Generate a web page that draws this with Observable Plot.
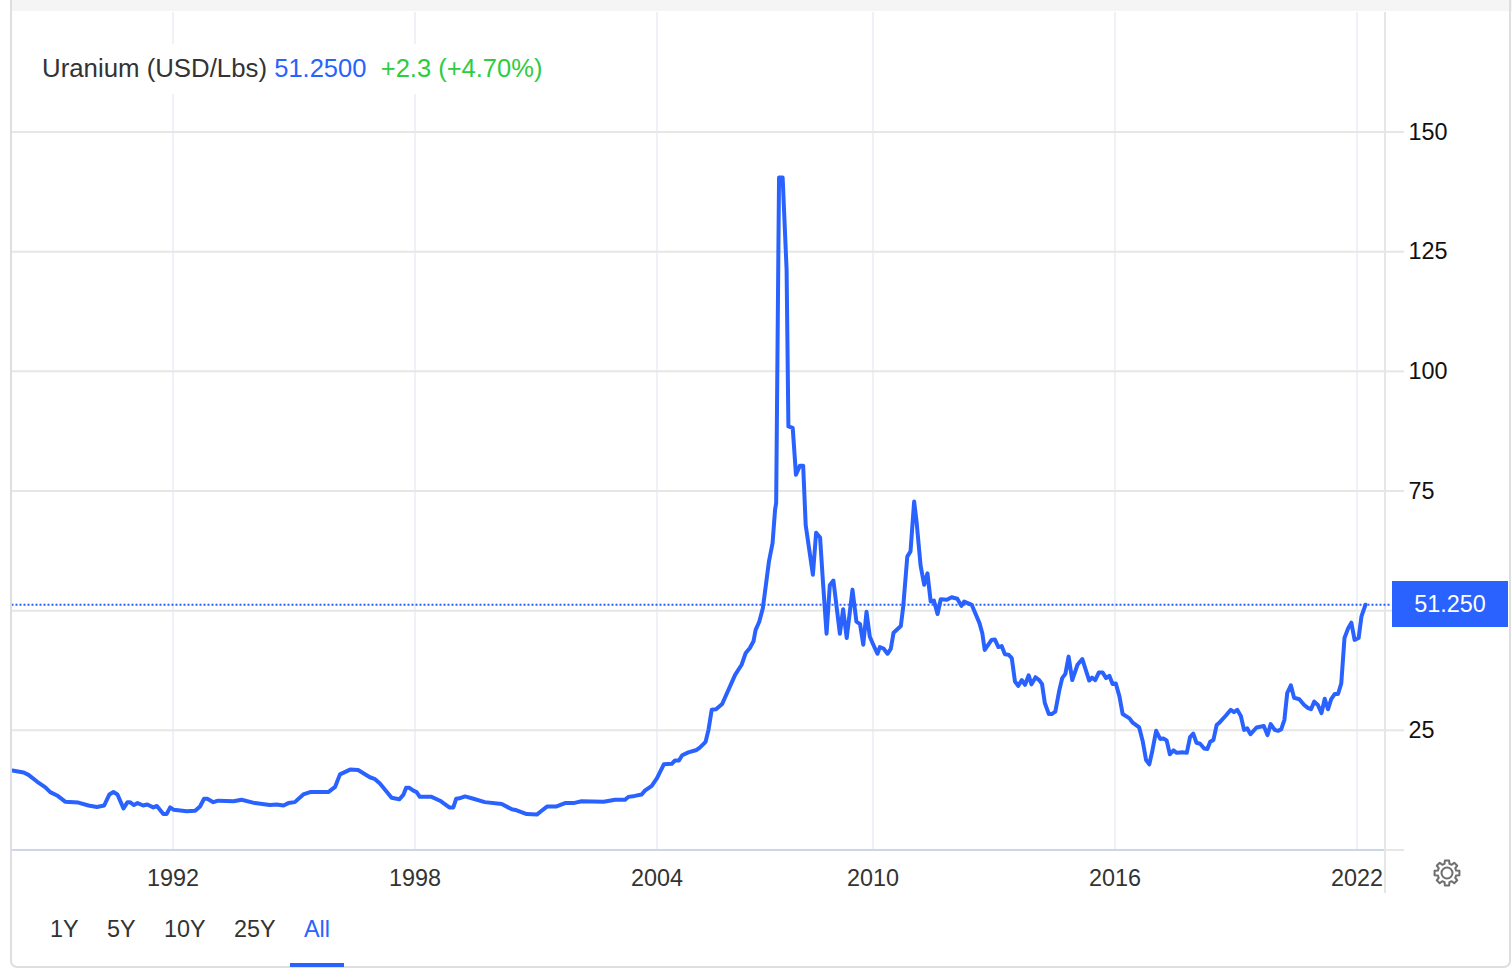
<!DOCTYPE html>
<html lang="en">
<head>
<meta charset="utf-8">
<title>Uranium</title>
<script src="https://cdn.jsdelivr.net/npm/d3@7"></script>
<script src="https://cdn.jsdelivr.net/npm/@observablehq/plot@0.6"></script>
<style>
  html, body { margin: 0; padding: 0; background: #fff; width: 1512px; height: 976px; overflow: hidden; font-family: "Liberation Sans", Arial, sans-serif; }
  #chart { position: absolute; left: 0; top: 0; }
  #chart svg { display: block; background: #fff; }
  .frame { position: absolute; left: 10px; top: -4px; width: 1497px; height: 968px; border: 2px solid #dedede; border-radius: 0 0 7px 7px; pointer-events: none; }
  .strip { position: absolute; left: 12px; top: 0; width: 1500px; height: 11px; background: #f5f5f5; }
  .title { position: absolute; left: 30px; top: 44px; height: 50px; line-height: 48px; padding: 0 12px; background: #fff; font-size: 25.8px; color: #333; white-space: pre; }
  .title span { font-size: 25.5px; }
  .btn { position: absolute; top: 913px; font-size: 23.4px; line-height: 32px; color: #333; }
  .under { position: absolute; left: 290px; top: 963px; width: 54px; height: 4px; background: #2962ff; }
  .price { position: absolute; left: 1392px; width: 116px; height: 46px; line-height: 46px; text-align: center; background: #2962ff; color: #fff; font-size: 23.4px; }
  .gear { position: absolute; left: 1432px; top: 858px; }
</style>
</head>
<body>
<div id="chart"></div>
<script>
const years = [
  1988.01,1988.29,1988.41,1988.62,1988.83,1988.95,1989.12,1989.32,1989.65,1989.90,
  1990.11,1990.29,1990.42,1990.52,1990.62,1990.77,1990.87,1990.93,1991.03,1991.12,
  1991.26,1991.36,1991.51,1991.60,1991.76,1991.84,1991.93,1992.02,1992.34,1992.55,
  1992.67,1992.77,1992.85,1993.00,1993.12,1993.50,1993.70,1994.03,1994.40,1994.57,
  1994.74,1994.86,1995.02,1995.23,1995.40,1995.85,1996.02,1996.14,1996.39,1996.59,
  1996.88,1997.01,1997.13,1997.42,1997.61,1997.71,1997.78,1997.86,1997.96,1998.04,
  1998.12,1998.41,1998.62,1998.85,1998.95,1999.02,1999.10,1999.24,1999.45,1999.73,
  2000.15,2000.40,2000.52,2000.77,2001.02,2001.14,2001.28,2001.51,2001.72,2001.93,
  2002.13,2002.67,2002.75,2002.96,2003.21,2003.29,2003.45,2003.62,2003.70,2003.87,
  2004.00,2004.19,2004.41,2004.50,2004.61,2004.70,2004.87,2005.10,2005.19,2005.35,
  2005.43,2005.52,2005.64,2005.81,2006.17,2006.35,2006.46,2006.58,2006.68,2006.74,
  2006.84,2006.94,2007.03,2007.11,2007.21,2007.28,2007.31,2007.39,2007.49,2007.60,
  2007.65,2007.77,2007.86,2007.97,2008.06,2008.13,2008.33,2008.42,2008.53,2008.60,
  2008.71,2008.80,2008.90,2009.08,2009.17,2009.27,2009.43,2009.54,2009.64,2009.73,
  2009.82,2009.91,2009.99,2010.11,2010.17,2010.26,2010.36,2010.44,2010.51,2010.69,
  2010.75,2010.85,2010.93,2011.02,2011.08,2011.18,2011.27,2011.35,2011.43,2011.51,
  2011.60,2011.68,2011.83,2011.95,2012.09,2012.19,2012.26,2012.45,2012.64,2012.71,
  2012.77,2012.94,2013.02,2013.11,2013.19,2013.27,2013.36,2013.44,2013.52,2013.60,
  2013.69,2013.77,2013.86,2013.93,2014.03,2014.12,2014.19,2014.26,2014.36,2014.43,
  2014.52,2014.62,2014.69,2014.77,2014.85,2014.94,2015.07,2015.19,2015.36,2015.43,
  2015.51,2015.60,2015.69,2015.78,2015.86,2015.94,2016.02,2016.11,2016.19,2016.36,
  2016.44,2016.60,2016.69,2016.77,2016.85,2016.93,2017.02,2017.12,2017.20,2017.28,
  2017.36,2017.45,2017.53,2017.69,2017.78,2017.86,2017.94,2018.02,2018.11,2018.21,
  2018.29,2018.36,2018.44,2018.52,2018.60,2018.75,2018.87,2018.95,2019.03,2019.12,
  2019.20,2019.28,2019.36,2019.51,2019.69,2019.78,2019.86,2019.96,2020.04,2020.12,
  2020.20,2020.27,2020.36,2020.44,2020.57,2020.69,2020.78,2020.86,2020.94,2021.03,
  2021.12,2021.20,2021.28,2021.36,2021.45,2021.53,2021.61,2021.69,2021.78,2021.86,
  2021.94,2022.04,2022.11,2022.21
];
const prices = [
  16.6,16.2,15.7,14.3,13.1,12.1,11.4,10.1,9.9,9.3,
  9.0,9.3,11.6,12.1,11.6,8.7,10.0,10.0,9.4,9.8,
  9.3,9.5,8.9,9.2,7.5,7.5,8.9,8.4,8.1,8.2,
  9.1,10.7,10.7,10.0,10.3,10.2,10.5,9.8,9.4,9.5,
  9.3,9.8,10.0,11.6,12.1,12.1,13.2,15.8,16.8,16.7,
  15.2,14.8,13.9,10.9,10.6,11.5,13.0,13.0,12.4,12.1,
  11.1,11.1,10.3,8.9,8.9,10.7,10.8,11.2,10.7,10.0,
  9.6,8.5,8.3,7.5,7.4,8.2,9.1,9.1,9.8,9.8,
  10.2,10.1,10.2,10.5,10.5,11.1,11.3,11.6,12.4,13.4,
  15.0,17.9,18.0,18.7,18.7,19.8,20.4,20.9,21.4,22.6,
  25.1,29.3,29.4,30.5,36.6,38.7,41.1,42.2,43.6,46.0,
  47.7,50.5,55.7,60.3,64.1,71.1,72.5,140.5,140.5,121.2,
  88.5,88.2,78.4,80.3,80.3,67.9,57.5,66.3,65.3,57.1,
  45.2,55.3,56.3,45.2,50.3,44.3,54.4,47.7,47.2,42.9,
  49.8,44.6,43.2,41.0,42.4,42.1,41.0,42.0,45.4,46.8,
  50.9,61.3,62.4,72.8,68.6,59.4,55.4,57.8,51.9,52.1,
  49.3,52.4,52.3,52.8,52.5,51.0,51.9,51.2,47.4,45.3,
  41.8,43.9,44.0,42.4,42.6,40.9,40.8,40.1,35.2,34.3,
  35.5,34.5,36.5,34.6,36.1,35.5,34.7,30.7,28.4,28.4,
  28.9,33.4,35.9,36.8,40.4,35.5,38.7,39.9,35.4,36.0,
  35.5,37.1,37.1,35.9,36.4,34.7,34.8,32.1,28.4,27.5,
  26.6,25.6,22.6,18.8,17.9,20.9,24.9,23.2,23.3,22.9,
  20.0,20.8,20.3,20.4,20.3,23.6,24.3,22.4,22.2,21.2,
  21.1,22.6,23.0,26.1,26.7,28.1,29.3,28.8,29.3,28.0,
  25.1,25.4,24.2,25.6,25.9,24.0,26.3,25.1,24.9,25.2,
  27.2,32.8,34.4,31.8,31.5,30.3,29.7,29.4,31.0,30.3,
  28.6,31.6,29.4,31.5,32.6,32.6,34.8,44.3,46.3,47.5,
  43.9,44.3,48.8,51.25
];
const xTicks = [1992, 1998, 2004, 2010, 2016, 2022];
const yTicks = [0, 25, 50, 75, 100, 125, 150];
const hiddenYLabels = [0, 50];
const lastPrice = 51.25;
const rangeButtons = ["1Y", "5Y", "10Y", "25Y", "All"];
const buttonLefts = [50, 107, 164, 234, 304];

const BLUE = "#2962ff";
const table = years.map((year, i) => ({year, price: prices[i]}));
const xEnd = 2022.69;

const plot = Plot.plot({
  width: 1512,
  height: 976,
  marginLeft: 12,
  marginRight: 127,
  marginTop: 12,
  marginBottom: 126,
  style: {fontFamily: '"Liberation Sans", Arial, sans-serif', background: "#fff", overflow: "visible"},
  x: {type: "linear", domain: [1988, ...xTicks, xEnd], range: [11.5, 172.5, 414.5, 656.5, 872.5, 1114.5, 1356.5, 1384.5]},
  y: {type: "linear", domain: [0, 175.08], range: [849.5, 11.5]},
  marks: [
    Plot.ruleX(xTicks, {stroke: "#eef2f6", strokeWidth: 2}),
    Plot.ruleY(yTicks.filter(d => d > 0), {stroke: "#e6e6e6", strokeWidth: 2}),
    Plot.ruleY([0], {stroke: "#ccd6eb", strokeWidth: 2}),
    Plot.ruleX([xEnd], {stroke: "#e6e6e6", strokeWidth: 2, insetBottom: -43}),
    Plot.axisY({
      anchor: "right", ticks: yTicks, tickSize: 18, tickPadding: 5,
      stroke: "#e6e6e6", strokeWidth: 2, fill: "#111", fontSize: 23.4, label: null,
      tickFormat: d => hiddenYLabels.includes(d) ? "" : String(d)
    }),
    Plot.axisX({
      anchor: "bottom", ticks: xTicks, tickSize: 0, tickPadding: 19,
      fill: "#333", fontSize: 23.4, label: null, tickFormat: d => String(d)
    }),
    Plot.ruleY([lastPrice], {x1: 1988, x2: xEnd, stroke: BLUE, strokeWidth: 2, strokeDasharray: "2 2", insetRight: -7}),
    Plot.line(table, {x: "year", y: "price", stroke: BLUE, strokeWidth: 4, curve: "linear", strokeLinejoin: "round", strokeLinecap: "round"})
  ]
});
document.getElementById("chart").appendChild(plot);

function addDiv(cls, text, css) {
  const el = document.createElement("div");
  el.className = cls;
  if (text) el.textContent = text;
  Object.assign(el.style, css || {});
  document.body.appendChild(el);
  return el;
}

addDiv("strip");
addDiv("frame");

const title = addDiv("title");
title.innerHTML = 'Uranium (USD/Lbs) <span style="color:' + BLUE + '">51.2500</span>  <span style="color:#2ecc40">+2.3 (+4.70%)</span>';

rangeButtons.forEach((label, i) => {
  addDiv("btn", label, {left: buttonLefts[i] + "px", color: label === "All" ? BLUE : "#333"});
});
addDiv("under");

addDiv("price", lastPrice.toFixed(3), {top: Math.round(plot.scale("y").apply(lastPrice) - 23) + "px"});

// settings gear icon
const cx = 15, cy = 15, teeth = 8;
const pts = [];
for (let i = 0; i < teeth; i++) {
  const a = i * 2 * Math.PI / teeth;
  [[-0.26, 9.5], [-0.17, 12.6], [0.17, 12.6], [0.26, 9.5]].forEach(([da, r]) => {
    pts.push((cx + r * Math.sin(a + da)).toFixed(2) + "," + (cy - r * Math.cos(a + da)).toFixed(2));
  });
}
const gear = document.createElement("div");
gear.className = "gear";
gear.innerHTML = '<svg width="30" height="30" viewBox="0 0 30 30" fill="none" stroke="#6e6e6e" stroke-width="2" stroke-linejoin="round"><polygon points="' + pts.join(" ") + '"/><circle cx="15" cy="15" r="5.5"/></svg>';
document.body.appendChild(gear);
</script>
</body>
</html>
